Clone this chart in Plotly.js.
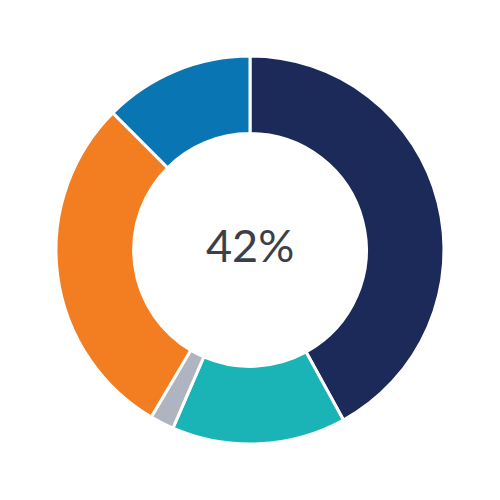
<!DOCTYPE html>
<html><head><meta charset="utf-8">
<script src="https://cdn.plot.ly/plotly-3.0.1.min.js"></script>
<style>html,body{margin:0;padding:0;background:#fff}#c{width:500px;height:500px}</style>
</head><body><div id="c"></div>
<script>
var labels = ["Navy", "Teal", "Gray", "Orange", "Blue"];
var values = [42, 14.5, 2, 29, 12.5];
var colors = ["#1c2a5a", "#1ab4b6", "#aeb5c1", "#f37d21", "#0a75b3"];
var centerText = "42%";

Plotly.newPlot("c", [{
  type: "pie",
  labels: labels,
  values: values,
  hole: 0.6,
  sort: false,
  direction: "clockwise",
  rotation: 0,
  textinfo: "none",
  hoverinfo: "label+percent",
  marker: {colors: colors, line: {color: "#ffffff", width: 3}}
}], {
  width: 500, height: 500,
  margin: {l: 56, r: 56, t: 56, b: 56},
  showlegend: false,
  paper_bgcolor: "#ffffff",
  annotations: [{
    text: centerText, x: 0.5, y: 0.5, xref: "paper", yref: "paper", yshift: 5,
    showarrow: false, font: {family: "Lato", size: 45, color: "#3b4048"}
  }]
}, {displayModeBar: false, staticPlot: true});
</script></body></html>
